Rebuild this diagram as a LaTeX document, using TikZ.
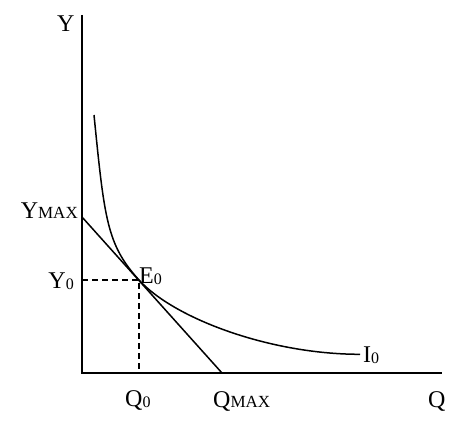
\documentclass[tikz,border=0pt]{standalone}
\usepackage{fontspec}
\setmainfont{Liberation Serif}
\newcommand{\bigsz}{\fontsize{24}{24}\selectfont}
\newcommand{\subcap}[1]{{\fontsize{17}{17}\selectfont #1}}
\newcommand{\subzero}{\raisebox{-1.5pt}{\fontsize{16}{16}\selectfont 0}}
\begin{document}
\begin{tikzpicture}[x=1pt,y=-1pt,
  axis/.style={line width=1.8pt},
  curve/.style={line width=1.5pt},
  guide/.style={line width=1.3pt, dash pattern=on 6pt off 4pt},
  lbl/.style={inner sep=0pt, font=\bigsz}]
\useasboundingbox (0,0) rectangle (474,436);
% axes
\coordinate (ytop) at (82,15);
\coordinate (origin) at (82,373);
\coordinate (xend) at (442,373);
\draw[axis] (ytop) -- (origin) -- (xend);
% budget line
\coordinate (ymax) at (82,217);
\coordinate (qmax) at (222,373);
\coordinate (E) at (139,280);
\coordinate (y0) at (82,280);
\coordinate (q0) at (139,373);
\draw[curve] (ymax) -- (qmax);
% indifference curve
\coordinate (istart) at (94,115);
\coordinate (iend) at (360,354.3);
\draw[curve] (istart) .. controls (104.5,220) and (107,244.8) .. (E)
  .. controls (174,318.5) and (270,354.3) .. (iend);
% guides
\draw[guide] (y0) -- (E) -- (q0);
% labels
\node[lbl, anchor=base west] (Ylab) at (57,32) {Y};
\node[lbl, anchor=base east] (YmaxLab) at (78,218) {Y\subcap{MAX}};
\node[lbl, anchor=base east] (Y0lab) at (74,288) {Y\subzero};
\node[lbl, anchor=base west] (E0lab) at (139,283) {E\subzero};
\node[lbl, anchor=base west] (Q0lab) at (125,406) {Q\subzero};
\node[lbl, anchor=base west] (QmaxLab) at (213,407) {Q\subcap{MAX}};
\node[lbl, anchor=base west] (Qlab) at (428,407) {Q};
\node[lbl, anchor=base west] (I0lab) at (363,362) {I\subzero};
\end{tikzpicture}
\end{document}
